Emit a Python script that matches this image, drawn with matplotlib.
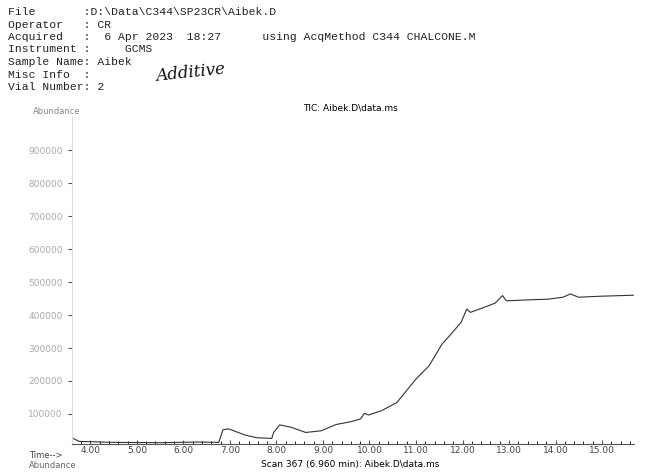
import matplotlib
matplotlib.use('Agg')
import matplotlib.pyplot as plt
import numpy as np

# TIC trace (minutes, abundance)
t = [3.51, 3.76, 4.49, 5.5, 6.3, 6.76, 6.85, 6.97, 7.33, 7.58, 7.90, 7.94, 8.07, 8.31,
     8.63, 8.96, 9.28, 9.61, 9.81, 9.89, 9.98, 10.26, 10.59, 11.00, 11.28, 11.56,
     11.72, 11.97, 12.09, 12.17, 12.46, 12.70, 12.86, 12.94, 13.43, 13.84, 14.16,
     14.32, 14.49, 14.98, 15.67]
abund = [34000, 17000, 14000, 13000, 15000, 14000, 52000, 55000, 36000, 28000, 26000,
         44000, 67000, 60000, 44000, 49000, 68000, 77000, 85000, 102000, 97000, 110000,
         135000, 206000, 246000, 312000, 337000, 378000, 418000, 408000, 423000, 436000,
         459000, 443000, 446000, 448000, 454000, 464000, 454000, 457000, 460000]

header = [
    "File       :D:\\Data\\C344\\SP23CR\\Aibek.D",
    "Operator   : CR",
    "Acquired   :  6 Apr 2023  18:27      using AcqMethod C344 CHALCONE.M",
    "Instrument :     GCMS",
    "Sample Name: Aibek",
    "Misc Info  :",
    "Vial Number: 2",
]

fig = plt.figure(figsize=(6.52, 4.72), dpi=100)
for i, line in enumerate(header):
    fig.text(0.012, 1 - (12 + 12.5 * i) / 472, line, family='Liberation Mono',
             fontsize=8.2, va='center', color='#222222')
fig.text(0.237, 1 - 73 / 472, "Additive", fontsize=12, style='italic',
         family='DejaVu Serif', va='center', rotation=6, color='#111111')

ax = fig.add_axes([0.110, 0.060, 0.862, 0.692])
ax.plot(t, abund, color='#333333', lw=0.8)
ax.set_xlim(3.6, 15.68)
ax.set_ylim(10000, 1000000)
ax.set_xticks(np.arange(4, 16, 1))
ax.set_xticklabels([f"{v:.2f}" for v in np.arange(4, 16, 1)])
ax.set_xticks(np.arange(3.6, 15.7, 0.2), minor=True)
ax.set_yticks(np.arange(100000, 1000000, 100000))
ax.set_yticklabels([str(v) for v in range(100000, 1000000, 100000)])
ax.tick_params(labelsize=6.5, colors='#555555', length=3)
ax.tick_params(axis='x', which='both', direction='in', pad=2, labelcolor='#444444')
ax.tick_params(axis='x', which='minor', length=2)
ax.tick_params(axis='y', labelcolor='#aaaaaa')
for s in ['top', 'right']:
    ax.spines[s].set_visible(False)
ax.spines['left'].set_color('#dddddd')
ax.spines['bottom'].set_color('#555555')

fig.text(0.537, 1 - 108 / 472, "TIC: Aibek.D\\data.ms", fontsize=6.5, ha='center', va='center')
fig.text(0.05, 1 - 112 / 472, "Abundance", fontsize=6, color='#888888', va='center')
fig.text(0.045, 1 - 455 / 472, "Time-->", fontsize=6, color='#444444', va='center')
fig.text(0.045, 1 - 465 / 472, "Abundance", fontsize=6, color='#666666', va='center')
fig.text(0.537, 1 - 465 / 472, "Scan 367 (6.960 min): Aibek.D\\data.ms", fontsize=6.5,
         ha='center', va='center')

fig.savefig('out.png', dpi=100)
